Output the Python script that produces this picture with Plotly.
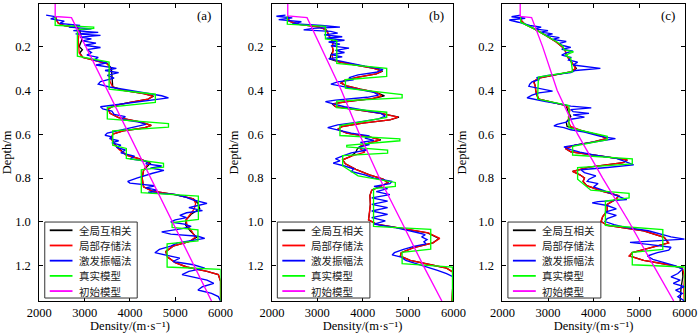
import plotly.graph_objects as go

# ---------------- data ----------------
series_names = ["全局互相关", "局部存储法", "激发振幅法", "真实模型", "初始模型"]
series_colors = ["#000000", "#ff0000", "#0000ff", "#00ff00", "#ff00ff"]
panel_labels = ["(a)", "(b)", "(c)"]
x_ticks = [2000, 3000, 4000, 5000, 6000]
y_ticks = [0.2, 0.4, 0.6, 0.8, 1.0, 1.2]

# panel (a): (depth m, density)
a_init = [(0.0, 2350), (0.064, 2350), (0.069, 2710), (1.36, 5800)]
a_true = [(0.062, 2350), (0.104, 2350), (0.112, 3200), (0.118, 3200), (0.124, 2840), (0.245, 2840),
          (0.272, 3540), (0.395, 3540), (0.418, 4560), (0.455, 4560), (0.478, 3500), (0.530, 3500),
          (0.552, 4850), (0.568, 4850), (0.585, 3620), (0.650, 3620), (0.665, 3920), (0.710, 3920),
          (0.733, 4740), (0.750, 4740), (0.762, 4250), (0.866, 4250), (0.882, 5510), (0.988, 5510),
          (1.003, 4930), (1.025, 4930), (1.036, 5500), (1.086, 5500), (1.100, 4820), (1.205, 4820),
          (1.216, 6000), (1.36, 6000)]
a_red = [(0.062, 2360), (0.080, 2380), (0.095, 2420), (0.105, 2550), (0.115, 2820), (0.125, 2900),
         (0.140, 2880), (0.170, 2860), (0.200, 2870), (0.230, 2880), (0.250, 2960), (0.265, 3250),
         (0.280, 3500), (0.300, 3560), (0.330, 3540), (0.360, 3560), (0.385, 3620), (0.400, 3850),
         (0.415, 4300), (0.427, 4500), (0.440, 4400), (0.455, 4000), (0.470, 3650), (0.485, 3520),
         (0.505, 3560), (0.525, 3750), (0.545, 4250), (0.560, 4470), (0.572, 4300), (0.585, 3850),
         (0.600, 3620), (0.620, 3580), (0.645, 3650), (0.670, 3760), (0.695, 3920), (0.715, 4250),
         (0.732, 4420), (0.748, 4350), (0.765, 4300), (0.800, 4270), (0.840, 4300), (0.860, 4500),
         (0.875, 5000), (0.895, 5400), (0.915, 5450), (0.940, 5420), (0.965, 5320), (0.990, 5240),
         (1.015, 5260), (1.040, 5360), (1.070, 5440), (1.090, 5300), (1.110, 4950), (1.135, 4790),
         (1.160, 4830), (1.185, 5000), (1.205, 5250), (1.225, 5700), (1.240, 5950), (1.270, 6000),
         (1.36, 6000)]
a_black = [(0.062, 2360), (0.080, 2380), (0.095, 2420), (0.105, 2550), (0.115, 2820), (0.125, 2900),
           (0.140, 2900), (0.170, 2940), (0.200, 2880), (0.215, 2950), (0.230, 2890), (0.250, 2960),
           (0.265, 3250), (0.280, 3510), (0.300, 3590), (0.330, 3600), (0.360, 3600), (0.385, 3620),
           (0.400, 3850), (0.415, 4300), (0.427, 4520), (0.440, 4400), (0.455, 4000), (0.470, 3650),
           (0.485, 3520), (0.505, 3560), (0.525, 3750), (0.545, 4250), (0.560, 4470), (0.572, 4300),
           (0.585, 3850), (0.600, 3620), (0.620, 3600), (0.645, 3660), (0.670, 3780), (0.695, 3920),
           (0.715, 4250), (0.732, 4450), (0.748, 4380), (0.765, 4300), (0.800, 4270), (0.840, 4300),
           (0.860, 4500), (0.875, 5000), (0.895, 5400), (0.915, 5500), (0.940, 5540), (0.965, 5350),
           (0.990, 5240), (1.015, 5230), (1.040, 5330), (1.070, 5470), (1.090, 5300), (1.110, 4950),
           (1.135, 4790), (1.160, 4830), (1.185, 5000), (1.205, 5250), (1.225, 5700), (1.240, 5950),
           (1.270, 6000), (1.36, 6000)]
a_blue = [(0.058, 2150), (0.066, 2380), (0.075, 2250), (0.085, 2550), (0.095, 2450), (0.105, 2900),
          (0.112, 2650), (0.120, 3150), (0.128, 2750), (0.136, 3300), (0.143, 2800), (0.150, 3350),
          (0.158, 2900), (0.166, 3150), (0.175, 2950), (0.185, 3250), (0.195, 3000), (0.205, 3350),
          (0.215, 3050), (0.228, 3150), (0.240, 3050), (0.250, 3300), (0.262, 3200), (0.275, 3500),
          (0.285, 3250), (0.300, 3700), (0.310, 3450), (0.320, 3750), (0.332, 3500), (0.345, 3650),
          (0.360, 3350), (0.372, 3300), (0.385, 3550), (0.398, 3900), (0.412, 4350), (0.425, 4700),
          (0.435, 4850), (0.445, 4500), (0.460, 3900), (0.475, 3350), (0.485, 3400), (0.495, 3600),
          (0.510, 3650), (0.520, 3900), (0.532, 3800), (0.545, 4200), (0.555, 4350), (0.565, 4150),
          (0.580, 3850), (0.595, 3500), (0.605, 3450), (0.612, 3600), (0.620, 3550), (0.630, 3750),
          (0.640, 3600), (0.650, 3800), (0.660, 3700), (0.672, 3900), (0.685, 3800), (0.700, 4100),
          (0.712, 4000), (0.725, 4400), (0.735, 4350), (0.745, 4700), (0.755, 4450), (0.765, 4750),
          (0.778, 4500), (0.790, 4300), (0.800, 4150), (0.815, 3950), (0.823, 4000), (0.835, 4550),
          (0.845, 4350), (0.855, 4600), (0.865, 4400), (0.875, 5000), (0.885, 5200), (0.900, 5400),
          (0.915, 5700), (0.925, 5500), (0.935, 5300), (0.948, 5600), (0.958, 5250), (0.970, 5100),
          (0.980, 5250), (0.990, 5000), (1.000, 4900), (1.010, 5200), (1.020, 5350), (1.030, 5150),
          (1.045, 4700), (1.055, 4900), (1.065, 5500), (1.075, 5650), (1.085, 5300), (1.095, 5050),
          (1.110, 4900), (1.125, 4650), (1.140, 4550), (1.150, 4800), (1.165, 5100), (1.180, 4950),
          (1.195, 5400), (1.210, 5650), (1.225, 5300), (1.240, 5150), (1.255, 5500), (1.265, 5700),
          (1.280, 5850), (1.295, 5600), (1.310, 5500), (1.325, 5800), (1.340, 5950), (1.36, 6000)]

# panel (b)
b_init = [(0.0, 2350), (0.061, 2350), (0.069, 2775), (0.2, 3080), (0.4, 3530), (0.6, 3930),
          (0.8, 4370), (1.0, 4860), (1.2, 5340), (1.36, 5745)]
b_true = [(0.062, 2340), (0.099, 2340), (0.109, 3180), (0.166, 3180), (0.174, 3430), (0.278, 3430),
          (0.300, 4530), (0.337, 4530), (0.352, 3620), (0.390, 3620), (0.420, 4870), (0.435, 4870),
          (0.449, 3430), (0.479, 3430), (0.500, 4530), (0.524, 4530), (0.561, 3500), (0.606, 3500),
          (0.621, 4820), (0.630, 4820), (0.651, 3650), (0.658, 3650), (0.673, 4550), (0.686, 4550),
          (0.698, 3560), (0.745, 3560), (0.790, 3900), (0.820, 4720), (0.838, 4720), (0.848, 4240),
          (1.020, 4240), (1.034, 5500), (1.124, 5500), (1.138, 4870), (1.190, 4870), (1.206, 5980),
          (1.36, 5980)]
b_red = [(0.062, 2350), (0.085, 2380), (0.100, 2600), (0.112, 3050), (0.125, 3200), (0.140, 3230),
         (0.160, 3280), (0.180, 3350), (0.200, 3330), (0.220, 3350), (0.240, 3330), (0.258, 3340),
         (0.270, 3480), (0.285, 3850), (0.300, 4250), (0.313, 4420), (0.325, 4300), (0.340, 3900),
         (0.355, 3600), (0.367, 3530), (0.380, 3650), (0.395, 3950), (0.410, 4300), (0.425, 4420),
         (0.438, 4200), (0.450, 3700), (0.462, 3350), (0.475, 3400), (0.490, 3850), (0.505, 4400),
         (0.522, 4780), (0.535, 4600), (0.550, 4000), (0.565, 3550), (0.578, 3450), (0.595, 3650),
         (0.612, 4150), (0.626, 4380), (0.640, 4150), (0.655, 3950), (0.668, 3950), (0.682, 4050),
         (0.700, 3750), (0.717, 3560), (0.735, 3620), (0.760, 3850), (0.785, 4150), (0.805, 4450),
         (0.822, 4550), (0.838, 4400), (0.855, 4200), (0.880, 4160), (0.920, 4170), (0.960, 4150),
         (0.990, 4130), (1.010, 4300), (1.030, 4900), (1.050, 5450), (1.075, 5700), (1.095, 5550),
         (1.115, 5150), (1.140, 4850), (1.155, 4830), (1.175, 5050), (1.195, 5500), (1.210, 5850),
         (1.230, 6000), (1.300, 5980), (1.36, 5970)]
b_black = [(0.062, 2350), (0.085, 2380), (0.100, 2600), (0.112, 3050), (0.125, 3200), (0.140, 3230),
           (0.160, 3280), (0.180, 3350), (0.200, 3330), (0.220, 3350), (0.240, 3300), (0.258, 3280),
           (0.270, 3470), (0.285, 3850), (0.300, 4250), (0.313, 4440), (0.325, 4300), (0.340, 3900),
           (0.355, 3600), (0.367, 3520), (0.380, 3650), (0.395, 3950), (0.410, 4300), (0.425, 4480),
           (0.438, 4230), (0.450, 3700), (0.462, 3330), (0.475, 3400), (0.490, 3850), (0.505, 4400),
           (0.522, 4800), (0.535, 4600), (0.550, 4000), (0.565, 3550), (0.578, 3450), (0.595, 3650),
           (0.612, 4150), (0.626, 4400), (0.640, 4150), (0.655, 3950), (0.668, 3880), (0.682, 3850),
           (0.700, 3750), (0.717, 3560), (0.735, 3620), (0.760, 3850), (0.785, 4150), (0.805, 4450),
           (0.822, 4560), (0.838, 4400), (0.855, 4200), (0.880, 4160), (0.920, 4170), (0.960, 4150),
           (0.990, 4130), (1.010, 4300), (1.030, 4900), (1.050, 5430), (1.075, 5680), (1.095, 5550),
           (1.115, 5150), (1.140, 4850), (1.155, 4830), (1.175, 5050), (1.195, 5500), (1.210, 5850),
           (1.230, 6000), (1.300, 5980), (1.36, 5970)]
b_blue = [(0.058, 2300), (0.063, 2100), (0.070, 2450), (0.078, 2150), (0.088, 2650), (0.097, 2450),
          (0.105, 3100), (0.112, 3500), (0.118, 2900), (0.125, 2700), (0.132, 3300), (0.140, 3450),
          (0.148, 3150), (0.156, 3550), (0.163, 3200), (0.172, 3600), (0.180, 3250), (0.190, 3500),
          (0.198, 3300), (0.208, 3700), (0.218, 3400), (0.228, 3600), (0.238, 3300), (0.248, 3550),
          (0.256, 3250), (0.265, 3500), (0.275, 3700), (0.290, 4050), (0.305, 4450), (0.318, 4300),
          (0.330, 3900), (0.342, 3700), (0.352, 3800), (0.362, 3450), (0.372, 3300), (0.382, 3550),
          (0.395, 3900), (0.410, 4250), (0.422, 4350), (0.432, 4100), (0.445, 3400), (0.452, 3180),
          (0.462, 3350), (0.475, 3600), (0.490, 4000), (0.505, 4400), (0.518, 4500), (0.530, 4350),
          (0.545, 3900), (0.558, 3450), (0.570, 3230), (0.582, 3450), (0.595, 3750), (0.608, 4150),
          (0.618, 4050), (0.628, 4250), (0.638, 3950), (0.648, 4150), (0.660, 3900), (0.672, 4100),
          (0.685, 3750), (0.700, 3550), (0.712, 3400), (0.722, 3500), (0.732, 3350), (0.745, 3600),
          (0.758, 3800), (0.770, 3750), (0.785, 4050), (0.800, 4250), (0.815, 4650), (0.825, 4600),
          (0.838, 4250), (0.848, 4550), (0.862, 4300), (0.875, 4600), (0.890, 4200), (0.905, 4550),
          (0.920, 4200), (0.935, 4550), (0.950, 4200), (0.965, 4550), (0.980, 4200), (0.995, 4500),
          (1.010, 4250), (1.025, 4700), (1.035, 4950), (1.048, 5200), (1.058, 5380), (1.068, 5300),
          (1.080, 5420), (1.090, 5350), (1.100, 5400), (1.110, 5150), (1.125, 4900), (1.140, 4700),
          (1.150, 4650), (1.160, 4850), (1.175, 4950), (1.190, 5200), (1.205, 5400), (1.220, 5650),
          (1.235, 5850), (1.250, 6000), (1.36, 6000)]

# panel (c)
c_init = [(0.0, 2390), (0.064, 2390), (0.069, 2640), (0.2, 2880), (0.4, 3200), (0.6, 3650),
          (0.8, 4200), (1.0, 4780), (1.2, 5320), (1.36, 5760)]
c_true = [(0.062, 2400), (0.090, 2400), (0.120, 2700), (0.150, 2950), (0.180, 3200), (0.200, 3330),
          (0.215, 3350), (0.225, 3560), (0.232, 3450), (0.240, 3380), (0.255, 3500), (0.315, 3540),
          (0.340, 2790), (0.440, 2770), (0.470, 3460), (0.570, 3460), (0.610, 4300), (0.625, 4300),
          (0.655, 3540), (0.695, 3540), (0.712, 4850), (0.735, 4850), (0.752, 3650), (0.805, 3650),
          (0.855, 3940), (0.870, 4780), (0.890, 4780), (0.905, 4260), (1.015, 4260), (1.035, 5520),
          (1.125, 5520), (1.138, 4850), (1.195, 4850), (1.205, 6000), (1.36, 6000)]
c_red = [(0.062, 2410), (0.085, 2420), (0.100, 2500), (0.120, 2700), (0.150, 2950), (0.180, 3180),
         (0.200, 3300), (0.220, 3380), (0.240, 3400), (0.260, 3480), (0.285, 3560), (0.300, 3600),
         (0.315, 3520), (0.330, 3150), (0.345, 2800), (0.360, 2680), (0.380, 2720), (0.400, 2730),
         (0.420, 2750), (0.440, 2800), (0.455, 3100), (0.470, 3400), (0.490, 3480), (0.520, 3450),
         (0.545, 3450), (0.565, 3500), (0.585, 3750), (0.605, 4150), (0.620, 4270), (0.635, 4000),
         (0.650, 3600), (0.665, 3380), (0.680, 3500), (0.700, 4200), (0.717, 4740), (0.730, 4650),
         (0.750, 3900), (0.770, 3540), (0.785, 3700), (0.800, 3800), (0.815, 3770), (0.835, 3850),
         (0.860, 4200), (0.880, 4550), (0.895, 4500), (0.920, 4300), (0.950, 4300), (0.975, 4200),
         (0.998, 4160), (1.015, 4300), (1.040, 5100), (1.070, 5550), (1.095, 5650), (1.115, 5300),
         (1.140, 4850), (1.155, 4780), (1.175, 5100), (1.195, 5650), (1.210, 5950), (1.250, 6000),
         (1.300, 5980), (1.36, 5990)]
c_black = [(0.062, 2410), (0.085, 2420), (0.100, 2500), (0.120, 2700), (0.150, 2950), (0.180, 3180),
           (0.200, 3300), (0.220, 3380), (0.240, 3400), (0.260, 3480), (0.285, 3570), (0.300, 3620),
           (0.315, 3520), (0.330, 3150), (0.345, 2800), (0.360, 2690), (0.380, 2720), (0.400, 2730),
           (0.420, 2750), (0.440, 2800), (0.455, 3100), (0.470, 3400), (0.490, 3430), (0.520, 3500),
           (0.545, 3400), (0.565, 3420), (0.585, 3750), (0.605, 4150), (0.620, 4280), (0.635, 4000),
           (0.650, 3600), (0.665, 3380), (0.680, 3500), (0.700, 4200), (0.717, 4740), (0.730, 4650),
           (0.750, 3900), (0.770, 3540), (0.785, 3700), (0.800, 3800), (0.815, 3770), (0.835, 3850),
           (0.860, 4200), (0.880, 4550), (0.895, 4500), (0.920, 4300), (0.950, 4300), (0.975, 4200),
           (0.998, 4170), (1.015, 4300), (1.040, 5100), (1.070, 5550), (1.095, 5640), (1.115, 5300),
           (1.140, 4850), (1.155, 4790), (1.175, 5100), (1.195, 5650), (1.210, 5950), (1.250, 5960),
           (1.300, 5920), (1.36, 5900)]
c_blue = [(0.058, 2400), (0.065, 2200), (0.072, 2500), (0.080, 2150), (0.090, 2350), (0.098, 2500),
          (0.105, 2600), (0.112, 2850), (0.120, 2700), (0.128, 3000), (0.135, 2850), (0.143, 3100),
          (0.150, 2950), (0.160, 3250), (0.168, 3100), (0.178, 3400), (0.186, 3250), (0.195, 3300),
          (0.205, 3500), (0.213, 3300), (0.222, 3550), (0.230, 3400), (0.240, 3300), (0.250, 3500),
          (0.262, 3450), (0.272, 3650), (0.285, 3550), (0.300, 4150), (0.310, 3600), (0.320, 3500),
          (0.332, 3000), (0.342, 2750), (0.352, 2800), (0.362, 2650), (0.372, 2600), (0.382, 2580),
          (0.392, 2800), (0.404, 3100), (0.412, 2800), (0.422, 2650), (0.434, 2540), (0.442, 2700),
          (0.452, 2950), (0.462, 3250), (0.472, 3500), (0.480, 3950), (0.488, 3500), (0.497, 3550),
          (0.505, 3900), (0.512, 3550), (0.522, 3800), (0.532, 3500), (0.545, 3400), (0.555, 3200),
          (0.562, 3130), (0.570, 3350), (0.580, 3500), (0.590, 3800), (0.600, 3950), (0.610, 4150),
          (0.620, 4480), (0.632, 4100), (0.645, 3700), (0.658, 3350), (0.670, 3500), (0.682, 3700),
          (0.695, 4000), (0.710, 4500), (0.725, 4700), (0.740, 4880), (0.752, 4300), (0.762, 3720),
          (0.775, 3800), (0.790, 4050), (0.805, 3900), (0.815, 3860), (0.825, 4100), (0.840, 4000),
          (0.855, 4200), (0.870, 4400), (0.885, 4600), (0.898, 4730), (0.907, 4100), (0.913, 3970),
          (0.925, 4300), (0.940, 4500), (0.955, 4250), (0.970, 4500), (0.985, 4300), (0.998, 4250),
          (1.012, 4450), (1.025, 4700), (1.040, 5200), (1.055, 5500), (1.068, 5700), (1.078, 6000),
          (1.086, 5400), (1.093, 4800), (1.102, 5200), (1.115, 5700), (1.128, 5650), (1.140, 5400),
          (1.155, 5180), (1.170, 5300), (1.185, 5550), (1.200, 5800), (1.215, 5950), (1.235, 5850),
          (1.250, 5700), (1.265, 5900), (1.280, 5750), (1.295, 6000), (1.310, 5800), (1.325, 5950),
          (1.340, 5850), (1.36, 6000)]

panels = [
    [a_black, a_red, a_blue, a_true, a_init],
    [b_black, b_red, b_blue, b_true, b_init],
    [c_black, c_red, c_blue, c_true, c_init],
]

# ---------------- figure ----------------
SERIF = "Liberation Serif, DejaVu Serif, serif"
CJK = "Noto Sans CJK SC"
x_domains = [[0.0005, 0.2811], [0.3605, 0.6415], [0.7174, 0.9995]]
ytitle_standoff = [3, 6, 8]

fig = go.Figure()
shapes = []
annotations = []

LEG_FONT = 10.5
PLOT_H = 299.0
row_px = [230.8, 246.1, 261.4, 276.7, 292.0]     # legend row centres, px from top of figure
rows = [(302.0 - p) / PLOT_H for p in row_px]

for i, series in enumerate(panels):
    sfx = "" if i == 0 else str(i + 1)
    for name, color, pts in zip(series_names, series_colors, series):
        fig.add_trace(go.Scatter(
            x=[p[1] for p in pts], y=[p[0] for p in pts],
            mode="lines", name=name, showlegend=False,
            line=dict(color=color, width=1.35),
            xaxis="x" + sfx, yaxis="y" + sfx,
        ))
    axis_common = dict(showline=True, linecolor="black", linewidth=1, mirror="ticks",
                       ticks="inside", ticklen=4, tickcolor="black", showgrid=False,
                       zeroline=False, tickfont=dict(family=SERIF, size=12.5, color="black"))
    fig.layout["xaxis" + sfx] = dict(
        domain=x_domains[i], range=[2000, 6000], tickvals=x_ticks, anchor="y" + sfx,
        title=dict(text="Density/(m·s⁻¹)", standoff=1,
                   font=dict(family=SERIF, size=12.5, color="black")),
        **axis_common)
    fig.layout["yaxis" + sfx] = dict(
        domain=[0, 1], range=[1.36, 0.007], tickvals=y_ticks, tickformat=".1f",
        anchor="x" + sfx, ticklabelstandoff=5,
        title=dict(text="Depth/m", standoff=ytitle_standoff[i],
                   font=dict(family=SERIF, size=12.5, color="black")),
        **axis_common)
    xd = "x" + sfx + " domain"
    yd = "y" + sfx + " domain"
    annotations.append(dict(text=panel_labels[i], xref=xd, yref=yd, x=0.958, y=0.961,
                            xanchor="right", yanchor="middle", showarrow=False,
                            font=dict(family=SERIF, size=13, color="black")))
    # legend box
    shapes.append(dict(type="rect", xref=xd, yref=yd, x0=0.030, x1=0.540,
                       y0=(302.0 - 299.0) / PLOT_H, y1=(302.0 - 222.5) / PLOT_H,
                       line=dict(color="#333333", width=1), fillcolor="white", layer="above"))
    for name, color, ry in zip(series_names, series_colors, rows):
        shapes.append(dict(type="line", xref=xd, yref=yd, x0=0.0575, x1=0.183, y0=ry, y1=ry,
                           line=dict(color=color, width=1.8), layer="above"))
        annotations.append(dict(text=name, xref=xd, yref=yd, x=0.211, y=ry, xanchor="left",
                                yanchor="middle", showarrow=False, borderpad=0,
                                font=dict(family=CJK, size=LEG_FONT, color="#222222")))

fig.update_layout(width=700, height=333, margin=dict(l=38, r=12, t=3, b=31),
                  paper_bgcolor="white", plot_bgcolor="white", showlegend=False,
                  shapes=shapes, annotations=annotations)
fig.write_html("out.html")
